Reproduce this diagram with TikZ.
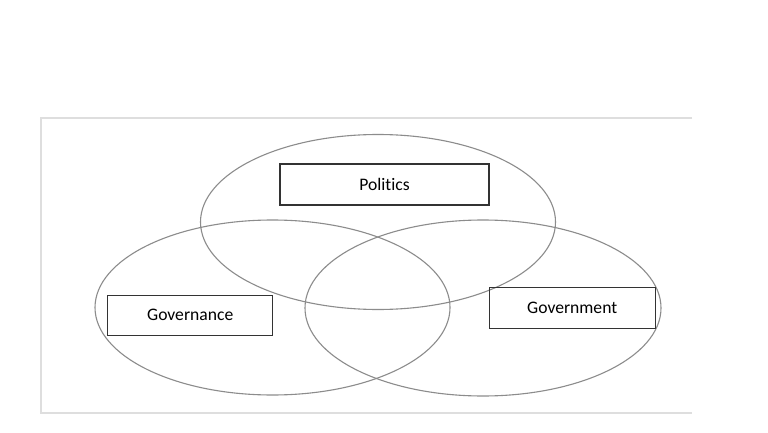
\documentclass[tikz,border=0pt]{standalone}
\usepackage{fontspec}
\setmainfont[Ligatures=NoCommon]{Carlito}
\begin{document}
\begin{tikzpicture}[x=1pt,y=-1pt,
  venn/.style={draw=black!45, line width=1.1pt},
  frameline/.style={draw=black!13, line width=1.5pt},
  labelbox/.style={draw=black!80, line width=1.3pt, fill=none, inner sep=0pt, font=\fontsize{17.6}{20}\selectfont, text=black}]
\useasboundingbox (0,0) rectangle (768,433);
\fill[white] (0,0) rectangle (768,433);
% frame
\coordinate (ftr) at (692,118);
\coordinate (ftl) at (41,118);
\coordinate (fbl) at (41,413);
\coordinate (fbr) at (692,413);
\draw[frameline] (ftr) -- (ftl) -- (fbl) -- (fbr);
% ellipses
\draw[venn] (378,222) ellipse [x radius=177.5, y radius=87.5];
\draw[venn] (272.5,307.5) ellipse [x radius=177.5, y radius=87.5];
\draw[venn] (483,308) ellipse [x radius=178, y radius=88];
% label boxes
\node[labelbox, minimum width=209, minimum height=41] (politics) at (384.5,184.5) {Politics};
\node[labelbox, minimum width=165, minimum height=40] (governance) at (190.2,315.2) {Governance};
\node[labelbox, minimum width=166, minimum height=41] (government) at (572.2,308) {Government};
\end{tikzpicture}
\end{document}
